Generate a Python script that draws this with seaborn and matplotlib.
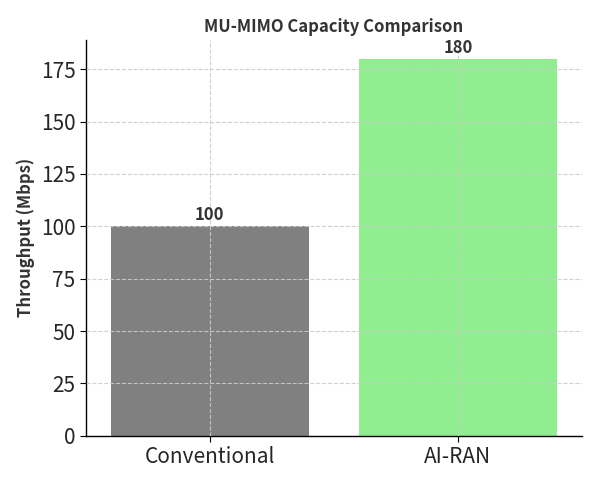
import matplotlib
matplotlib.use("Agg")
import matplotlib.pyplot as plt
import seaborn as sns
import pandas as pd

categories = ["Conventional", "AI-RAN"]
throughput = [100, 180]
bar_colors = ["gray", "lightgreen"]

sns.set_style("white")
plt.rcParams['font.family'] = ['Noto Sans CJK KR', 'DejaVu Sans']

df = pd.DataFrame({"System": categories, "Throughput": throughput})

fig, ax = plt.subplots(figsize=(6, 4.8), dpi=100)
sns.barplot(data=df, x="System", y="Throughput", hue="System", palette=bar_colors,
            legend=False, ax=ax, width=0.8, saturation=1, linewidth=0, edgecolor="none")

for i, v in enumerate(throughput):
    ax.text(i, v + 1, str(v), ha="center", va="bottom", fontsize=12, fontweight="bold", color="#333333")

ax.set_title("MU-MIMO Capacity Comparison", fontsize=12, fontweight="bold", color="#333333")
ax.set_ylabel("Throughput (Mbps)", fontsize=12, fontweight="bold", color="#333333")
ax.set_xlabel("")
ax.tick_params(axis="both", labelsize=15, length=4, color="black", left=True, bottom=True)
ax.set_axisbelow(False)
ax.grid(True, linestyle="--", color="#cccccc", linewidth=0.8, alpha=0.9)
for s in ["top", "right"]:
    ax.spines[s].set_visible(False)
for s in ["left", "bottom"]:
    ax.spines[s].set_color("black")
    ax.spines[s].set_linewidth(1.0)

fig.subplots_adjust(left=0.143, right=0.97, top=0.917, bottom=0.092)
fig.savefig("out.png", dpi=100)
